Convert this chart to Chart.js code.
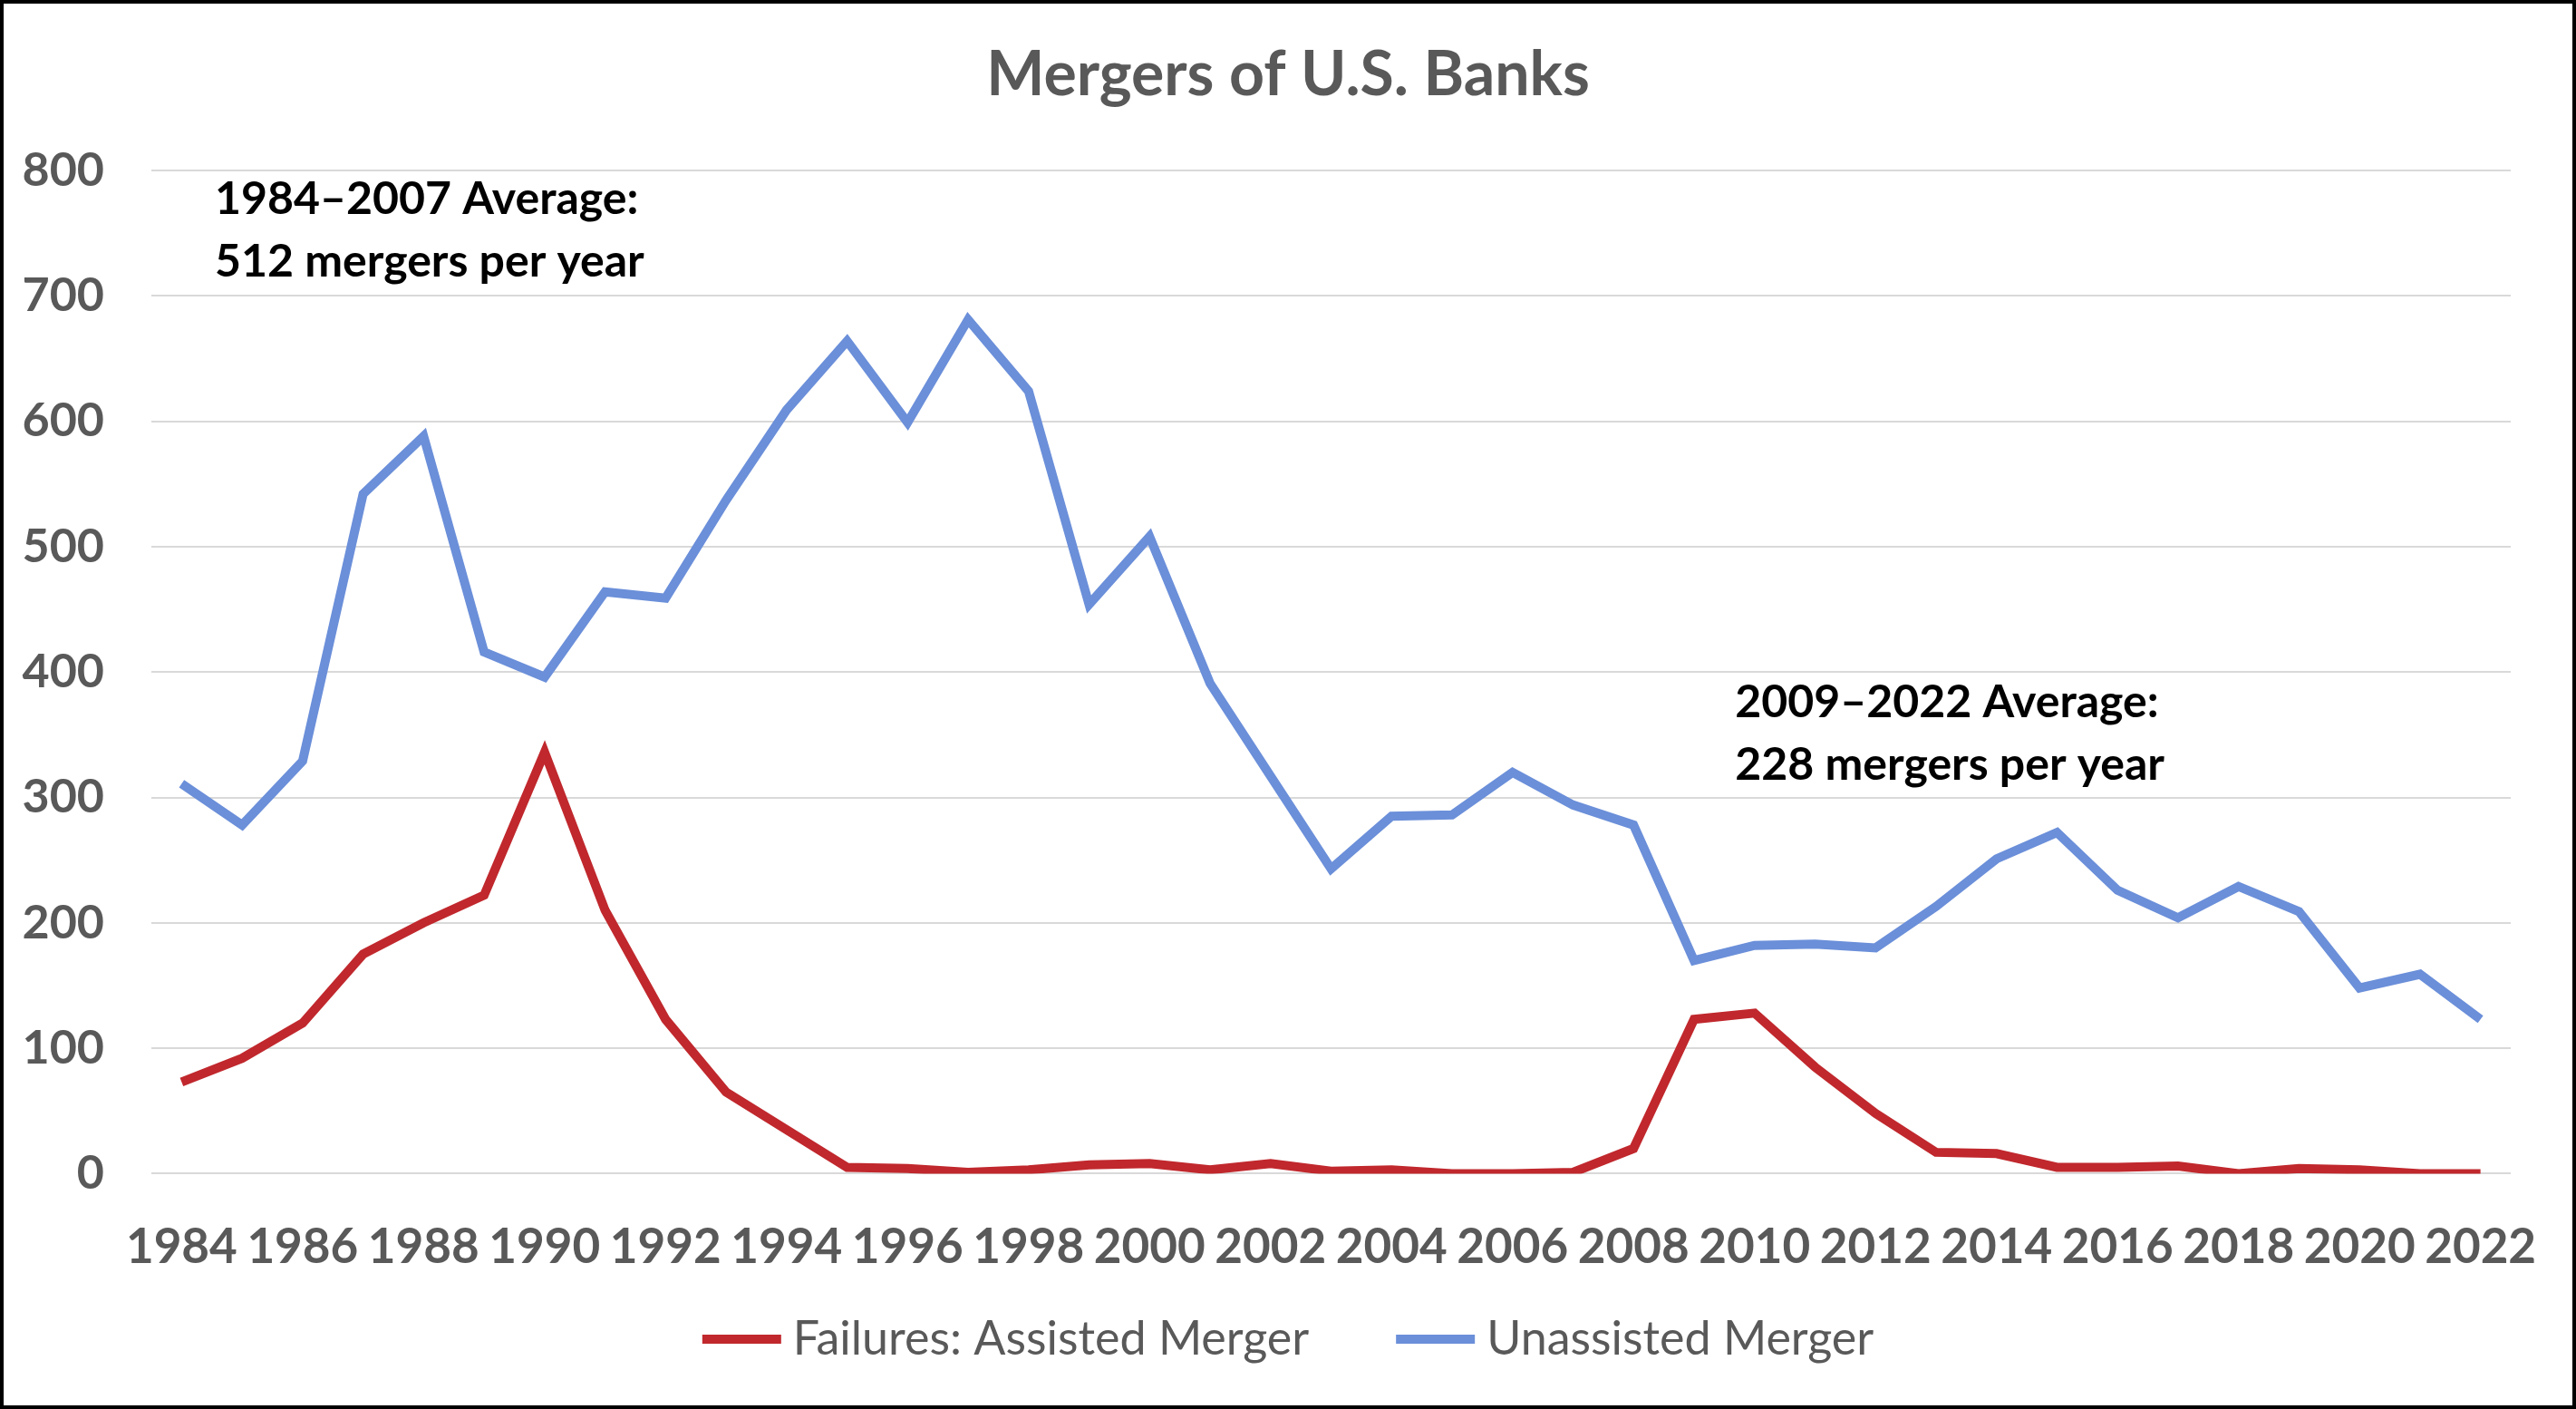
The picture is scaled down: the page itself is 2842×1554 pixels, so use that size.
<!DOCTYPE html>
<html>
<head>
<meta charset="utf-8">
<script src="https://cdn.jsdelivr.net/npm/chart.js@4.4.1/dist/chart.umd.min.js"></script>
<style>
  html, body { margin: 0; padding: 0; background: #fff; }
  #wrap { width: 2842px; height: 1554px; }
</style>
</head>
<body>
<div id="wrap"><canvas id="chart" width="2842" height="1554"></canvas></div>
<script>
// Years on the x axis
const years = [];
for (let y = 1984; y <= 2022; y++) years.push(String(y));

// Failures: Assisted Merger
const assisted = [73, 92, 120, 175, 200, 222, 336, 210, 123, 65, 35, 5, 4, 1, 3, 7, 8, 3, 8, 2,
                  3, 0, 0, 1, 20, 123, 128, 85, 48, 17, 16, 5, 5, 6, 0, 4, 3, 0, 0];

// Unassisted Merger
const unassisted = [311, 278, 329, 542, 588, 416, 396, 464, 459, 537, 609, 664, 599, 681, 624, 454, 508, 391, 317, 243,
                    285, 286, 320, 294, 278, 170, 182, 183, 180, 213, 251, 272, 226, 204, 229, 209, 148, 159, 123];

const yTicks = [0, 100, 200, 300, 400, 500, 600, 700, 800];

// Text notes: lines, anchored at a category index and a y value
const notes = [
    { lines: ['1984\u20132007 Average:', '512 mergers per year'], at: 0.55, value: 765 },
    { lines: ['2009\u20132022 Average:', '228 mergers per year'], at: 25.68, value: 364 }
];

const TITLE = 'Mergers of U.S. Banks';
const FONT = 'Lato, "Open Sans", sans-serif';
const GRAY = '#595959';

// Title, legend, average notes and the outer frame
const extras = {
    id: 'extras',
    beforeDraw(chart) {
        const ctx = chart.ctx;
        ctx.save();
        ctx.fillStyle = '#ffffff';
        ctx.fillRect(0, 0, chart.width, chart.height);
        ctx.restore();
    },
    afterDraw(chart) {
        const ctx = chart.ctx;
        const x = chart.scales.x;
        const y = chart.scales.y;
        const mid = chart.width / 2;
        ctx.save();

        // title
        ctx.fillStyle = GRAY;
        ctx.font = 'bold 68px ' + FONT;
        ctx.textAlign = 'center';
        ctx.textBaseline = 'middle';
        ctx.fillText(TITLE, mid, 83);

        // notes
        const step = x.getPixelForValue(1) - x.getPixelForValue(0);
        ctx.fillStyle = '#000000';
        ctx.font = 'bold 50px ' + FONT;
        ctx.textBaseline = 'alphabetic';
        ctx.textAlign = 'left';
        notes.forEach(n => {
            const px = x.getPixelForValue(0) + n.at * step;
            const py = y.getPixelForValue(n.value);
            n.lines.forEach((line, i) => ctx.fillText(line, px, py + i * 69));
        });

        // legend
        const boxW = 87, gap = 13, itemGap = 96, legendY = 1477;
        ctx.font = '52px ' + FONT;
        ctx.textBaseline = 'middle';
        const sets = chart.data.datasets;
        const widths = sets.map(ds => boxW + gap + ctx.measureText(ds.label).width);
        const total = widths.reduce((a, b) => a + b, 0) + itemGap * (sets.length - 1);
        let cx = mid - total / 2;
        sets.forEach((ds, i) => {
            ctx.strokeStyle = ds.borderColor;
            ctx.lineWidth = ds.borderWidth;
            ctx.beginPath();
            ctx.moveTo(cx, legendY);
            ctx.lineTo(cx + boxW, legendY);
            ctx.stroke();
            ctx.fillStyle = GRAY;
            ctx.fillText(ds.label, cx + boxW + gap, legendY);
            cx += widths[i] + itemGap;
        });

        // frame
        ctx.strokeStyle = '#000000';
        ctx.lineWidth = 4;
        ctx.strokeRect(2, 2, chart.width - 4, chart.height - 4);
        ctx.restore();
    }
};

new Chart(document.getElementById('chart'), {
    type: 'line',
    data: {
        labels: years,
        datasets: [
            {
                label: 'Failures: Assisted Merger',
                data: assisted,
                borderColor: '#C0282D',
                backgroundColor: '#C0282D',
                borderWidth: 10,
                pointRadius: 0,
                tension: 0
            },
            {
                label: 'Unassisted Merger',
                data: unassisted,
                borderColor: '#6B8FD9',
                backgroundColor: '#6B8FD9',
                borderWidth: 10,
                pointRadius: 0,
                tension: 0
            }
        ]
    },
    options: {
        responsive: false,
        devicePixelRatio: 1,
        animation: false,
        layout: { padding: { left: 18, right: 72, top: 188, bottom: 104 } },
        scales: {
            x: {
                offset: true,
                grid: { display: false },
                border: { display: false },
                ticks: {
                    autoSkip: false,
                    maxRotation: 0,
                    padding: 42,
                    color: GRAY,
                    font: { family: FONT, size: 53, weight: 'bold' },
                    callback: function (val, i) {
                        return i % 2 === 0 ? years[i] : '';
                    }
                }
            },
            y: {
                min: 0,
                max: 800,
                afterBuildTicks: axis => { axis.ticks = yTicks.map(v => ({ value: v })); },
                afterFit: axis => { axis.width = 149; },
                grid: { color: '#D9D9D9', lineWidth: 2, drawTicks: false },
                border: { display: false },
                ticks: {
                    padding: 52,
                    color: GRAY,
                    font: { family: FONT, size: 52, weight: 'bold' }
                }
            }
        },
        plugins: {
            title: { display: false },
            legend: { display: false },
            tooltip: { enabled: false }
        }
    },
    plugins: [extras]
});
</script>
</body>
</html>
